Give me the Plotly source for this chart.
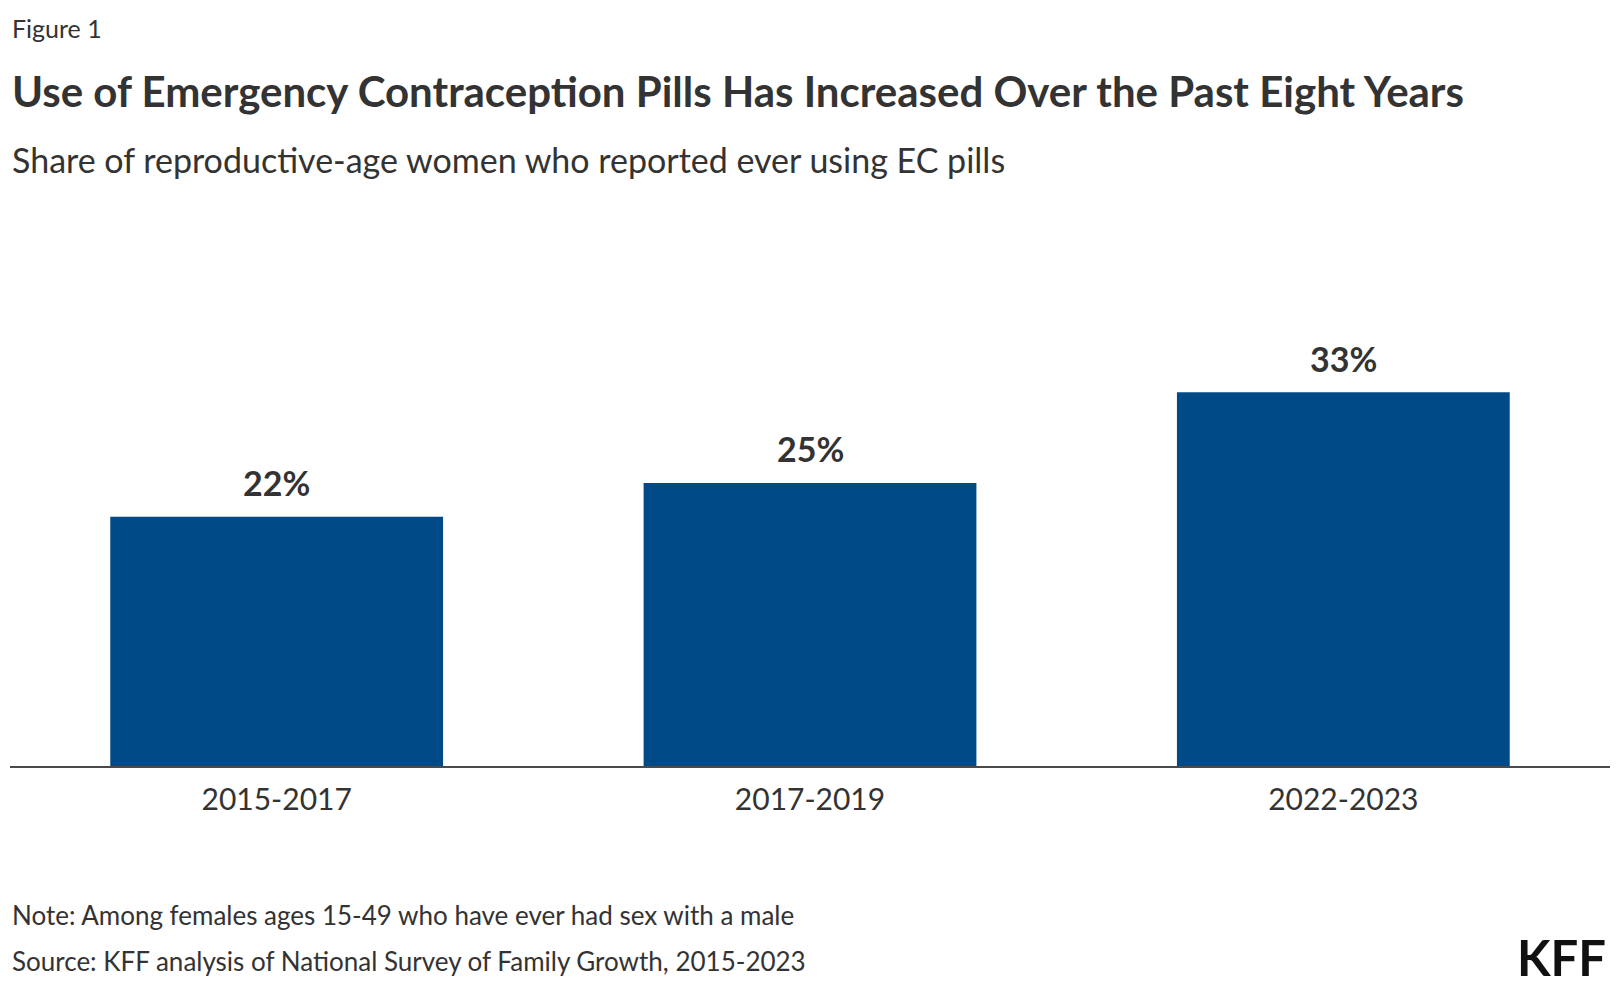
import plotly.graph_objects as go

categories = ["2015-2017", "2017-2019", "2022-2023"]
values = [22, 25, 33]
value_labels = ["22%", "25%", "33%"]

title_text = "Use of Emergency Contraception Pills Has Increased Over the Past Eight Years"
subtitle_text = "Share of reproductive-age women who reported ever using EC pills"
figure_label = "Figure 1"
note_text = "Note: Among females ages 15-49 who have ever had sex with a male"
source_text = "Source: KFF analysis of National Survey of Family Growth, 2015-2023"

FONT = "Lato, 'Source Sans Pro', 'Noto Sans', sans-serif"
TEXT = "#333333"
BAR = "#004a87"

fig = go.Figure()
fig.add_trace(go.Bar(
    x=categories, y=values, marker=dict(color=BAR, line=dict(width=0)),
    hoverinfo="skip", showlegend=False,
))

annotations = []
for c, v, lab in zip(categories, values, value_labels):
    annotations.append(dict(
        x=c, y=v, xref="x", yref="y", text="<b>" + lab + "</b>", showarrow=False,
        xanchor="center", yanchor="middle", yshift=34,
        font=dict(family=FONT, size=34, color=TEXT),
    ))

def pap(px):
    return (766 - px) / 453.0

annotations += [
    dict(x=0, y=pap(28), xref="paper", yref="paper", text=figure_label, showarrow=False,
         xanchor="left", yanchor="middle", font=dict(family=FONT, size=25, color=TEXT)),
    dict(x=0, y=pap(91), xref="paper", yref="paper", text="<b>" + title_text + "</b>", showarrow=False,
         xanchor="left", yanchor="middle", font=dict(family=FONT, size=42, color=TEXT)),
    dict(x=0, y=pap(159), xref="paper", yref="paper", text=subtitle_text, showarrow=False,
         xanchor="left", yanchor="middle", font=dict(family=FONT, size=34, color=TEXT)),
    dict(x=0, y=pap(915), xref="paper", yref="paper", text=note_text, showarrow=False,
         xanchor="left", yanchor="middle", font=dict(family=FONT, size=26, color=TEXT)),
    dict(x=0, y=pap(961), xref="paper", yref="paper", text=source_text, showarrow=False,
         xanchor="left", yanchor="middle", font=dict(family=FONT, size=26, color=TEXT)),
    dict(x=1, y=pap(957), xref="paper", yref="paper", text="<b>KFF</b>", showarrow=False,
         xanchor="right", yanchor="middle", xshift=-2,
         font=dict(family=FONT, size=49, color="#111111", weight=900)),
]

# page has an 8px body margin; figure sized so it fills the 1620x988 window
fig.update_layout(
    width=1612, height=980,
    margin=dict(l=2, r=10, t=305, b=222, pad=0),
    paper_bgcolor="white", plot_bgcolor="white",
    bargap=0.376,
    annotations=annotations,
    font=dict(family=FONT, color=TEXT),
    xaxis=dict(
        type="category", showgrid=False, zeroline=False,
        showline=True, linecolor="#4a4a4a", linewidth=2,
        ticks="", tickfont=dict(family=FONT, size=30, color=TEXT),
        ticklabelstandoff=6, fixedrange=True,
    ),
    yaxis=dict(
        range=[0, 40], showgrid=False, zeroline=False, showline=False,
        showticklabels=False, ticks="", fixedrange=True,
    ),
)

fig.write_html("out.html", config={"displayModeBar": False})
